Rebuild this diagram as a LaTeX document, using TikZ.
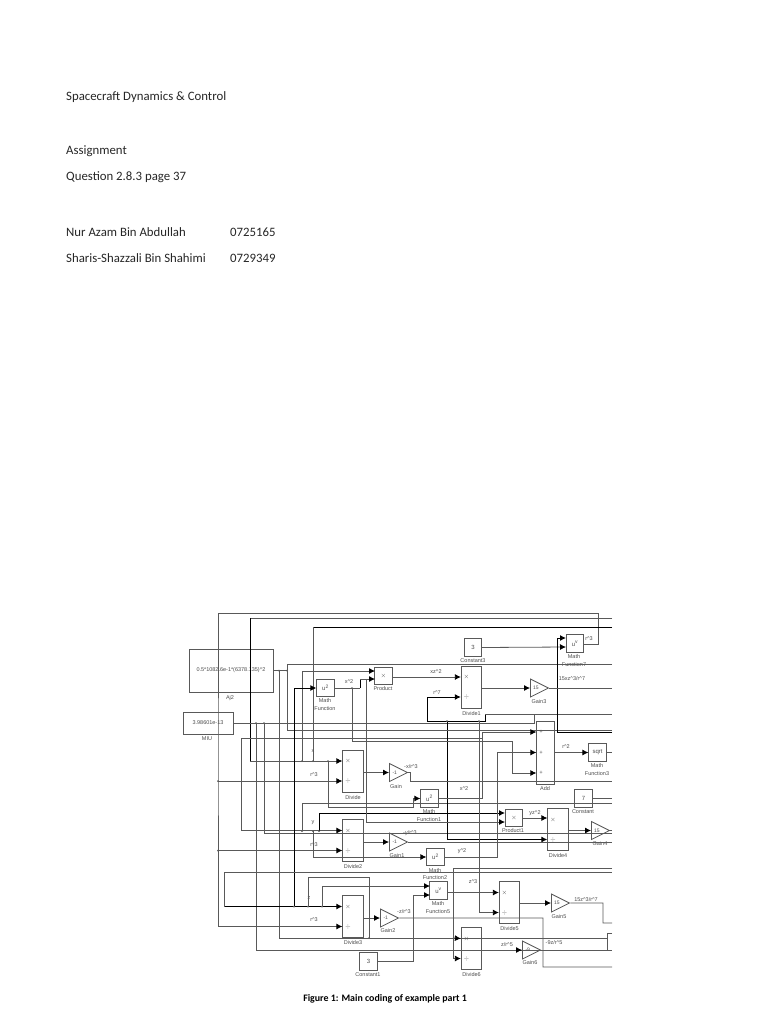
\documentclass[tikz,border=0pt]{standalone}
\usepackage{fontspec}
\setmainfont{Carlito}
\setsansfont{Liberation Sans}
\usetikzlibrary{arrows.meta,positioning,shapes.geometric}
\definecolor{wirecol}{gray}{0.35}
\newcommand{\hatc}{\textasciicircum}
\tikzset{
  >={Latex[length=6pt,width=6pt,black]},
  wire/.style={draw=wirecol,line width=0.8pt},
  thickwire/.style={draw=black,line width=1pt},
  sigin/.style={wire,->},
  blockbox/.style={draw=wirecol,line width=0.8pt,inner sep=0pt,font=\sffamily\fontsize{6}{6}\selectfont,text=black!70},
  dividebox/.style={blockbox,minimum width=20.5pt,minimum height=42pt},
  funcbox/.style={blockbox,minimum width=17.5pt,minimum height=17.5pt},
  gainbox/.style={blockbox,isosceles triangle,isosceles triangle stretches,minimum width=18pt,minimum height=18pt,anchor=west,font=\sffamily\fontsize{5}{5}\selectfont},
  sigtxt/.style={inner sep=0pt,text=black!70,font=\sffamily\fontsize{5.5}{5.5}\selectfont},
  signtxt/.style={inner sep=0pt,text=black!70,font=\fontsize{6}{6}\selectfont},
  pagetxt/.style={inner sep=0pt,anchor=west,text=black!85,font=\fontsize{12.8}{12.8}\selectfont},
  junc/.style={fill=wirecol}
}
\begin{document}
\begin{tikzpicture}[x=1pt,y=-1pt]
\useasboundingbox (0,0) rectangle (768,1024);
% page text
\node[pagetxt] (title) at (66,97) {Spacecraft Dynamics \& Control};
\node[pagetxt] (assign) at (66,151) {Assignment};
\node[pagetxt] (quest) at (66,177) {Question 2.8.3 page 37};
\node[pagetxt] (nameA) at (66,232) {Nur Azam Bin Abdullah};
\node[pagetxt] (idA) at (230,232) {0725165};
\node[pagetxt] (nameB) at (66,258) {Sharis-Shazzali Bin Shahimi};
\node[pagetxt] (idB) at (230,258) {0729349};
\node[inner sep=0pt,font=\bfseries\fontsize{9.9}{9.9}\selectfont] (caption) at (385,999) {Figure 1: Main coding of example part 1};
% sources
\node[blockbox,minimum width=84pt,minimum height=43pt,font=\sffamily\fontsize{5.5}{5.5}\selectfont] (aj) at (231,670.5) {0.5*1082.6e-1*(6378.135)\hatc 2};
\node[blockbox,minimum width=50pt,minimum height=22pt,font=\sffamily\fontsize{5.5}{5.5}\selectfont] (miu) at (208,723) {3.98601e-13};
\node[funcbox] (constc) at (473,647.5) {3};
\node[funcbox] (constb) at (583.5,798.5) {7};
\node[funcbox] (consta) at (368.5,961.5) {3};
% divide blocks
\foreach \nm/\cx/\cy/\lab in {dva/353/771/Divide,dvb/353/840.5/Divide2,dvc/353/916.5/Divide3,dvd/471.5/687/Divide1,dve/558/829.5/Divide4,dvf/509.5/902.5/Divide5,dvg/471.5/948.5/Divide6}{
  \node[dividebox] (\nm) at (\cx,\cy) {};
  \node[signtxt] (\nm x) at (\cx-5,\cy-10) {$\times$};
  \node[signtxt] (\nm d) at (\cx-5,\cy+10) {$\div$};
  \node[sigtxt,below=2.5pt of \nm] (\nm lab) {\lab};
}
% functions and product blocks
\node[funcbox] (mfa) at (325.5,688) {u\textsuperscript{2}};
\node[funcbox] (mfb) at (429.5,798.5) {u\textsuperscript{2}};
\node[funcbox] (mfc) at (435.5,857) {u\textsuperscript{2}};
\node[funcbox] (mfd) at (597.5,752.5) {sqrt};
\node[funcbox] (mfe) at (438.5,890.5) {u\textsuperscript{v}};
\node[funcbox] (mfg) at (575,643.5) {u\textsuperscript{v}};
\node[funcbox] (prod) at (383.5,676) {$\times$};
\node[funcbox] (proda) at (514,818) {$\times$};
\node[funcbox,minimum height=63pt] (addb) at (545.5,752.5) {};
\foreach \nm/\yy in {adda/732,addc/752.5,addd/773}{
  \node[signtxt] (\nm) at (541,\yy) {+};
}
% gains
\node[gainbox] (ga) at (389,772.5) {-1};
\node[gainbox] (gb) at (389,842) {-1};
\node[gainbox] (gc) at (380,918) {-1};
\node[gainbox] (gd) at (530,688) {15};
\node[gainbox] (ge) at (591,830.5) {15};
\node[gainbox] (gf) at (551,903) {15};
\node[gainbox] (gg) at (522,950) {-9};
% block names
\foreach \nm/\x/\y/\txt in {
  ajl/230/698/Aj2,miul/207/739/MIU,ccl/473/661/Constant3,cbl/583/812/Constant,cal/368/975/Constant1,
  mfal/325/701/Math,mfam/325/709/Function,mfbl/429/812/Math,mfbm/429/820/Function1,
  mfcl/435/871/Math,mfcm/435/878/Function2,mfdl/597/766/Math,mfdm/597/774/Function3,
  mfel/438/904/Math,mfem/438/912/Function5,mfgl/574/657/Math,mfgm/574/665/Function7,
  prl/383/689/Product,pral/513/831/Product1,adl/545/789/Add,
  gal/396/787/Gain,gbl/397/856/Gain1,gcl/388/931/Gain2,gdl/539/702/Gain3,gel/600/844/Gain4,gfl/559/917/Gain5,ggl/530/963/Gain6}{
  \node[sigtxt] (\nm) at (\x,\y) {\txt};
}
% signal names
\foreach \nm/\x/\y/\txt in {
  sa/349/682/{x\hatc 2},sb/313/751/x,sc/314/775/{r\hatc 3},sd/313/823/y,se/314/845/{r\hatc 3},sf/309/898/z,sg/314/920/{r\hatc 3},
  sh/436/672/{xz\hatc 2},si/437/693/{r\hatc 7},sj/572/679/{15xz\hatc 3/r\hatc 7},sk/589/639/{r\hatc 3},sl/566/747/{r\hatc 2},
  sm/411/767/{-x/r\hatc 3},sn/464/789/{x\hatc 2},so/410/833/{-y/r\hatc 3},sp/404/912/{-z/r\hatc 3},sq/462/851/{y\hatc 2},
  sr/473/882/{z\hatc 3},ss/535/813/{yz\hatc 2},st/586/900/{15z\hatc 3/r\hatc 7},su/507/945/{z/r\hatc 5},sv/554/943/{-9z/r\hatc 5}}{
  \node[sigtxt] (\nm) at (\x,\y) {\txt};
}
% corners and junctions
\coordinate (edge) at (612,0);
\coordinate (rA) at (598,613);
\coordinate (rB) at (218,613);
\coordinate (jrA) at (218,781);
\coordinate (jrB) at (218,850.5);
\coordinate (xA) at (250,618);
\coordinate (xB) at (250,761);
\coordinate (xC) at (313,627);
\coordinate (xD) at (413,807);
\coordinate (jxA) at (302,761);
\coordinate (jxB) at (313,761);
\coordinate (jxC) at (328,761);
\coordinate (jyA) at (302,831);
\coordinate (jyB) at (313,831);
\coordinate (jyC) at (319,831);
\coordinate (yA) at (319,813);
\coordinate (yB) at (241,738);
\coordinate (yC) at (241,830.5);
\coordinate (yD) at (482,738);
\coordinate (yE) at (302,803);
\coordinate (jmA) at (256,723);
\coordinate (jmB) at (264,723);
\coordinate (mA) at (534,723);
\coordinate (mB) at (534,714);
\coordinate (mC) at (256,950);
\coordinate (mD) at (264,833);
\coordinate (tA) at (427,721);
\coordinate (tB) at (485,721);
\coordinate (tC) at (485,714);
\coordinate (jtA) at (447,721);
\coordinate (jtB) at (479,721);
\coordinate (jaA) at (279,670.5);
\coordinate (jaB) at (287,670.5);
\coordinate (aA) at (287,664);
\coordinate (aB) at (287,730);
\coordinate (aC) at (279,938);
\coordinate (jzA) at (369,938);
\coordinate (zA) at (369,877);
\coordinate (zB) at (308,877);
\coordinate (jzB) at (308,906.5);
\coordinate (jzC) at (294,906.5);
\coordinate (jzD) at (322,906.5);
\coordinate (zC) at (224,906.5);
\coordinate (zD) at (224,872);
\coordinate (zE) at (453,868);
\coordinate (cA) at (413,961.5);
\coordinate (cB) at (413,895);
\coordinate (dA) at (557,732);
\coordinate (dB) at (557,638);
\coordinate (jfA) at (352,688);
\coordinate (fA) at (360,688);
\coordinate (fB) at (360,679);
\coordinate (fC) at (366,679);
\coordinate (fD) at (366,822);
\coordinate (fE) at (352,741);
\coordinate (fF) at (512,741);
\coordinate (gA) at (410,781);
\coordinate (gB) at (543,918);
\coordinate (gC) at (543,967);
\coordinate (gD) at (603,903);
\coordinate (gE) at (603,923);
\coordinate (gF) at (482,798.5);
\coordinate (gG) at (497,857);
\coordinate (pA) at (607,933);
\coordinate (pB) at (607,950);
\coordinate (eA) at (612,933);
\coordinate (inE) at (375,671);
\coordinate (inF) at (375,679);
\coordinate (inG) at (505,813);
\coordinate (inH) at (505,822);
\coordinate (inI) at (430,886);
\coordinate (inJ) at (430,895);
\coordinate (inK) at (566,638);
\coordinate (inL) at (566,647);
% r^3
\draw[wire] (mfg.east |- 0,644) -| (rA) -- (rB) -- (jrA) -- (jrB);
\draw[sigin] (jrB) |- (dvcd -| dvc.west);
\draw[sigin] (jrA) -- (dvad -| dva.west);
\draw[sigin] (jrB) -- (dvbd -| dvb.west);
% x
\draw[wire] (xA -| edge) -- (xA);
\draw[thickwire] (xA) -- (xB);
\draw[sigin] (xB) -- (dvax -| dva.west);
\draw[thickwire] (xC -| edge) -- (xC);
\draw[wire] (xC) -- (jxB);
\draw[sigin] (jxA) |- (inE);
\draw[sigin] (jxC) |- (xD) |- (mfb.west);
% y
\draw[wire] (jyA) -- (yE) -- (yE -| edge);
\draw[sigin] (yB) -- (yC) -- (dvbx -| dvb.west);
\draw[wire] (yB) -- (yD);
\draw[sigin] (jyB) |- (mfc.west);
\draw[sigin,thickwire] (jyC) |- (inG);
% MIU
\draw[wire] (miu.east) -- (mA) -- (mB) -- (mB -| edge);
\draw[wire] (jmA) -- (mC) -- (mC -| edge);
\draw[wire] (jmB) |- (mD -| edge);
\draw[thickwire] (dvdd -| tA) -- (tA) -- (tB) -- (tC);
\draw[sigin,thickwire] (dvdd -| tA) -- (dvdd -| dvd.west);
\draw[wire] (tC) -- (mB);
\draw[sigin,thickwire] (jtA) |- (dved -| dve.west);
\draw[sigin] (jtB) |- (dvfd -| dvf.west);
% Aj2
\draw[wire] (aj.east) -- (jaB);
\draw[wire] (aA -| edge) -- (aA) -- (aB) -- (aB -| edge);
\draw[wire] (jaA) -- (aC) -- (aC -| pA);
\draw[wire] (jzA) -- (zA) -- (zB) -- (jzB);
% z
\draw[thickwire] (jfA -| jzC) -- (jzC);
\draw[sigin,thickwire] (jfA -| jzC) -- (mfa.west);
\draw[sigin,thickwire] (zC) -- (dvcx -| dvc.west);
\draw[wire] (zC) -- (zD) -- (zD -| edge);
\draw[sigin] (jzD) |- (inI);
\draw[wire] (zE -| edge) -- (zE);
\draw[sigin] (zE) |- (dvgd -| dvg.west);
\draw[sigin] (aC -| dvg.west) ++(-8,0) -- (dvgx -| dvg.west);
% constants
\draw[sigin] (consta.east) -- (cA) |- (inJ);
\draw[sigin] (constc.east) -- (inL);
\draw[wire] (constb.east) -- (constb.east -| edge);
\draw[thickwire] (dA -| edge) -- (dA) -- (dB);
\draw[sigin,thickwire] (dB) -- (inK);
% math function outputs
\draw[wire] (mfa.east) -- (fA);
\draw[thickwire] (fA) -- (fB);
\draw[sigin] (fB) -- (inF);
\draw[sigin] (fC) -- (fD) -- (inH);
\draw[wire] (jfA) -- (fE) -- (fF);
\draw[sigin] (fF) |- (addd -| addb.west);
\draw[wire] (mfb.east) -- (gF);
\draw[sigin] (gF) |- (adda -| addb.west);
\draw[sigin] (mfc.east) -- (gG) |- (addc -| addb.west);
\draw[sigin] (mfe.east |- dvfx) -- (dvfx -| dvf.west);
\draw[sigin] (addb.east |- mfd) -- (mfd.west);
\draw[wire] (mfd.east) -- (mfd.east -| edge);
\draw[sigin] (prod.east |- dvdx) -- (dvdx -| dvd.west);
\draw[sigin] (proda.east) -- (proda.east -| dve.west);
% divide outputs and gains
\draw[sigin] (dva.east |- ga.west) -- (ga.west);
\draw[sigin] (dvb.east |- gb.west) -- (gb.west);
\draw[sigin] (dvc.east |- gc.west) -- (gc.west);
\draw[sigin] (dvd.east |- gd.west) -- (gd.west);
\draw[sigin] (dve.east |- ge.west) -- (ge.west);
\draw[sigin] (dvf.east |- gf.west) -- (gf.west);
\draw[sigin] (dvg.east |- gg.west) -- (gg.west);
\draw[wire] (ga.apex) -| (gA) -- (gA -| edge);
\draw[wire] (gb.apex) -- (gb.apex -| edge);
\draw[wire] (gc.apex) -- (gB) -- (gC) -- (gC -| edge);
\draw[wire] (gd.apex) -- (gd.apex -| edge);
\draw[wire] (ge.apex) -- (ge.apex -| edge);
\draw[wire] (gf.apex) -- (gD) -- (gE) -- (gE -| edge);
\draw[wire] (eA) -- (pA) -- (pB);
% junction dots
\foreach \pt in {jrA,jrB,jxA,jxB,jxC,jyA,jyB,jyC,jmA,jmB,jtA,jtB,jaA,jaB,jzA,jzB,jzC,jzD,jfA}{
  \fill[junc] (\pt) circle (1pt);
}
\end{tikzpicture}
\end{document}
